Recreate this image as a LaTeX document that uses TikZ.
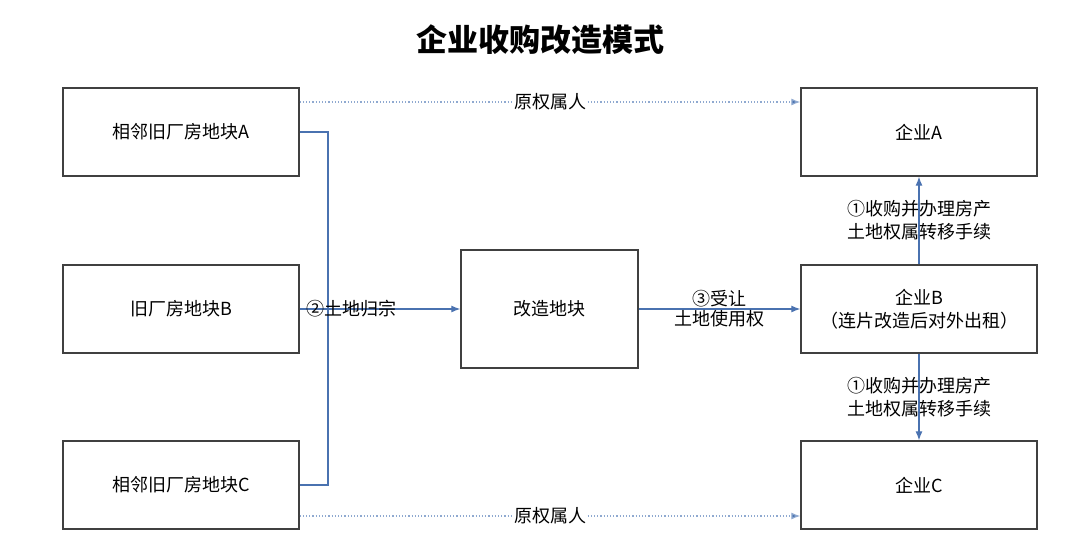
\documentclass[tikz,border=0pt]{standalone}
\usepackage{fontspec}
\setmainfont{Noto Sans CJK SC}
\usetikzlibrary{positioning,arrows.meta}
\definecolor{lineblue}{HTML}{4A72B0}
\definecolor{dotblue}{HTML}{8FA9D0}
\tikzset{
  block/.style={draw=black!75, line width=1.3pt, minimum width=236pt, minimum height=88pt, font=\fontsize{18}{23}\selectfont},
  link/.style={draw=lineblue, line width=1.2pt, -{Latex[length=9pt,width=7pt]}},
  owner/.style={draw=dotblue, line width=1.2pt, dotted, -{Latex[length=9pt,width=7pt,fill=lineblue]}},
  tag/.style={font=\fontsize{18}{23}\selectfont, align=center, inner sep=1pt}
}
\begin{document}
\begin{tikzpicture}[x=1pt, y=-1pt]
  \useasboundingbox (0,0) rectangle (1080,542);
  \node[font=\fontsize{31}{36}\selectfont\bfseries] (title) at (540,40) {企业收购改造模式};
  % left column
  \node[block] (oldA) at (181,132) {相邻旧厂房地块A};
  \node[block] (oldB) at (181,309) {旧厂房地块B};
  \node[block] (oldC) at (181,485) {相邻旧厂房地块C};
  \node[block, minimum width=177pt, minimum height=118pt] (plot) at (549.5,309) {改造地块};
  % right column
  \node[block] (firmA) at (919,132) {企业A};
  \node[block, align=center] (firmB) at (919,309) {企业B\\（连片改造后对外出租）};
  \node[block] (firmC) at (919,485) {企业C};
  % connectors
  \coordinate (bus) at (328,309);
  \draw[lineblue, line width=1.2pt] (oldA.east) -| (bus) |- (oldC.east);
  \draw[link] (oldB) -- (plot) node[tag, pos=0.32] {②土地归宗};
  \draw[link] (plot) -- (firmB) node[tag, midway, above] {③受让} node[tag, midway, below] {土地使用权};
  \draw[link] (firmB) -- (firmA) node[tag, midway] {①收购并办理房产\\土地权属转移手续};
  \draw[link] (firmB) -- (firmC) node[tag, midway] {①收购并办理房产\\土地权属转移手续};
  \draw[owner] ([yshift=30pt]oldA.east) -- ([yshift=30pt]firmA.west) node[tag, midway, fill=white] {原权属人};
  \draw[owner] ([yshift=-31pt]oldC.east) -- ([yshift=-31pt]firmC.west) node[tag, midway, fill=white] {原权属人};
\end{tikzpicture}
\end{document}
